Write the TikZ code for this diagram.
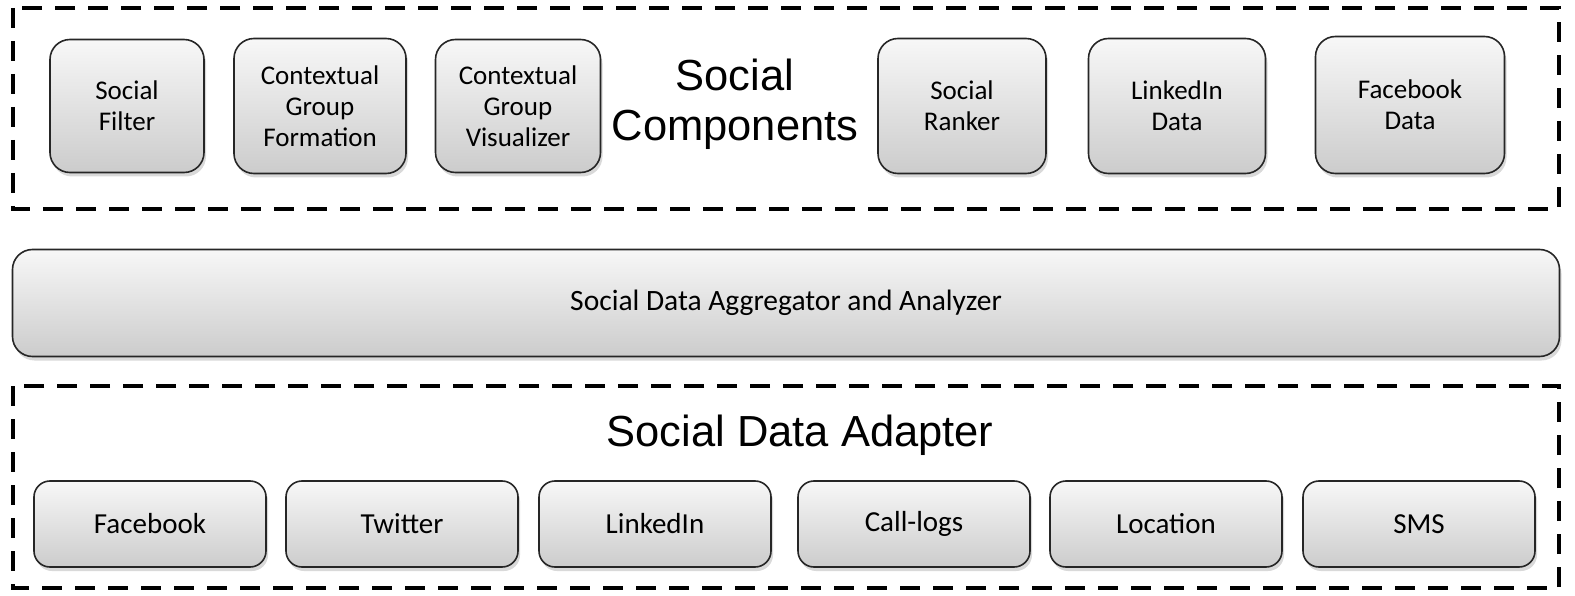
\documentclass[tikz,border=0pt]{standalone}
\usepackage{fontspec}
\setmainfont{Carlito}
\newfontfamily\titlefont{Liberation Sans}
\usepackage{tikz}
\usetikzlibrary{shadows, positioning, calc}

\tikzset{
  grpbox/.style={line width=4pt, dash pattern=on 20pt off 13pt},
  comp/.style={draw=black!85, line width=1.6pt, rounded corners=20pt,
    top color=gray!6, bottom color=gray!40, inner sep=0pt, align=center,
    drop shadow={shadow xshift=2pt, shadow yshift=-4pt, opacity=0.3},
    font=\fontsize{27}{31}\selectfont},
  src/.style={comp, rounded corners=16pt, minimum width=232pt, minimum height=86pt,
    font=\fontsize{29}{33}\selectfont},
  ttl/.style={align=center, font=\titlefont\fontsize{43.5}{50}\selectfont}
}

\begin{document}
\begin{tikzpicture}[x=1pt, y=-1pt]
  \useasboundingbox (0,0) rectangle (1575,596);

  % groups
  \draw[grpbox] (13,8) rectangle (1559,209);
  \draw[grpbox] (13,386) rectangle (1559,588);

  % social components
  \node[comp, minimum width=154pt, minimum height=133pt] (sfilter) at (127,106) {Social\\Filter};
  \node[comp, minimum width=172pt, minimum height=135pt] (cgform) at (320,106) {Contextual\\Group\\Formation};
  \node[comp, minimum width=165pt, minimum height=133pt] (cgvis) at (518,106) {Contextual\\Group\\Visualizer};
  \node[ttl] (sctitle) at (735,104) {Social\\Components};
  \node[comp, minimum width=168pt, minimum height=135pt] (sranker) at (962,106) {Social\\Ranker};
  \node[comp, minimum width=177pt, minimum height=135pt] (lidata) at (1177,106) {LinkedIn\\Data};
  \node[comp, minimum width=189pt, minimum height=137pt] (fbdata) at (1410,105) {Facebook\\Data};

  % aggregator
  \node[comp, minimum width=1547pt, minimum height=107pt, font=\fontsize{29.5}{33}\selectfont] (aggr) at (786,303) {Social Data Aggregator and Analyzer};

  % adapter
  \node[ttl] (adtitle) at (800,435) {Social Data Adapter};
  \foreach \x/\name/\txt in {150/fb/Facebook, 402/tw/Twitter, 655/li/LinkedIn,
      914/cl/Call-logs, 1166/loc/Location, 1419/sms/SMS}
    \node[src] (\name) at (\x,524) {\txt};
\end{tikzpicture}
\end{document}
